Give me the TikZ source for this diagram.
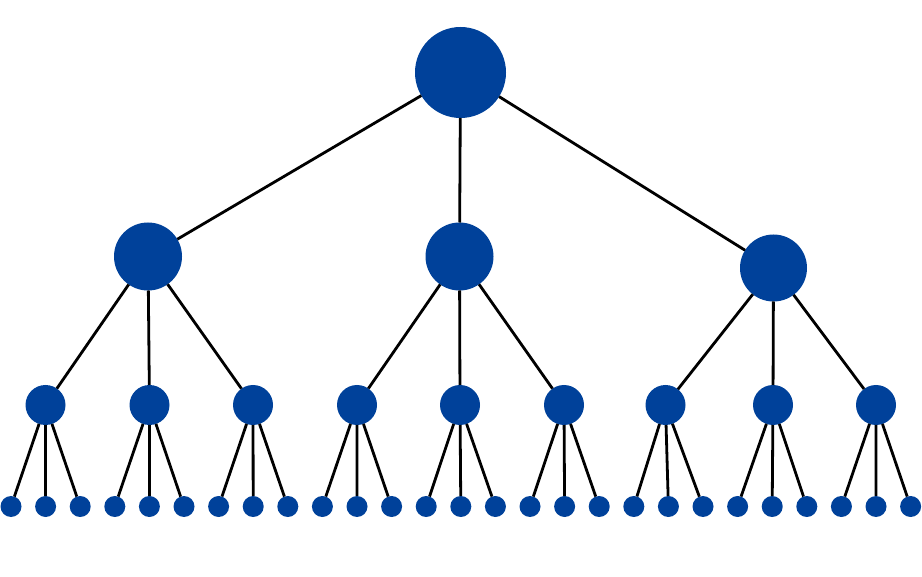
\documentclass[tikz,border=0pt]{standalone}
\usepackage{tikz}
\definecolor{treeblue}{HTML}{00419A}
\tikzset{>=latex}

\begin{document}
\begin{tikzpicture}[x=1pt, y=-1pt,
    dot/.style={circle, fill=treeblue, inner sep=0pt, outer sep=0pt},
    link/.style={line width=2.8pt, black}]
    % Frame
    \useasboundingbox (0,0) rectangle (922,577);

    % Root
    \node[dot, minimum size=91pt] (root) at (460.5,72.5) {};

    % First level
    \node[dot, minimum size=68pt] (a1) at (148,256.5) {};
    \node[dot, minimum size=68pt] (a2) at (459.5,256.5) {};
    \node[dot, minimum size=67pt] (a3) at (773.5,268) {};

    % Second level
    \foreach \j/\x in {0/45.5,1/149.5,2/253,3/357,4/460,5/564,6/665.5,7/773,8/876}
        \node[dot, minimum size=40pt] (b\j) at (\x,405) {};

    % Leaves
    \foreach \i in {0,...,26}
        \node[dot, minimum size=21pt] (c\i) at ({11+34.6*\i},506.5) {};

    % Lines
    \foreach \k in {1,2,3}
        \draw[link] (root) -- (a\k);
    \foreach \j in {0,...,8} {
        \pgfmathtruncatemacro{\p}{int(\j/3)+1}
        \draw[link] (a\p) -- (b\j);
    }
    \foreach \i in {0,...,26} {
        \pgfmathtruncatemacro{\q}{int(\i/3)}
        \draw[link] (b\q) -- (c\i);
    }
\end{tikzpicture}
\end{document}
